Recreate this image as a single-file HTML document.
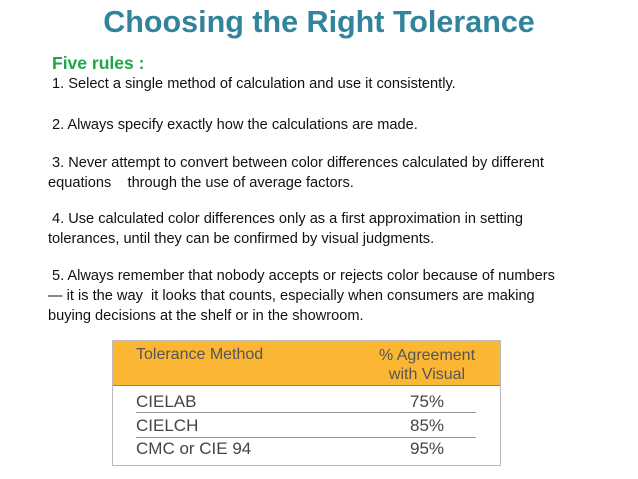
<!DOCTYPE html>
<html><head><meta charset="utf-8"><style>
body{margin:0;width:638px;height:479px;background:#fff;position:relative;overflow:hidden;font-family:"Liberation Sans",sans-serif}
.t{position:absolute;white-space:nowrap;font-size:14.6px;color:#111;line-height:16px}
</style></head><body>
<div style="position:absolute;left:0;width:638px;top:2px;text-align:center;font-size:30.5px;font-weight:bold;color:#31849b;line-height:40px">Choosing the Right Tolerance</div>
<div class="t" style="left:52px;top:55px;font-size:17.5px;font-weight:bold;color:#1fa64a">Five rules :</div>
<div class="t" style="left:52px;top:76px">1. Select a single method of calculation and use it consistently.</div>
<div class="t" style="left:52px;top:117px">2. Always specify exactly how the calculations are made.</div>
<div class="t" style="left:52px;top:155px">3. Never attempt to convert between color differences calculated by different</div>
<div class="t" style="left:48px;top:175px">equations &nbsp;&nbsp;&nbsp;through the use of average factors.</div>
<div class="t" style="left:52px;top:211px">4. Use calculated color differences only as a first approximation in setting</div>
<div class="t" style="left:48px;top:231px">tolerances, until they can be confirmed by visual judgments.</div>
<div class="t" style="left:52px;top:268px">5. Always remember that nobody accepts or rejects color because of numbers</div>
<div class="t" style="left:48px;top:288px">— it is the way &nbsp;it looks that counts, especially when consumers are making</div>
<div class="t" style="left:48px;top:308px">buying decisions at the shelf or in the showroom.</div>

<div style="position:absolute;left:112px;top:340px;width:387px;height:124px;border:1px solid #bbb;background:#fff">
 <div style="position:absolute;left:0;top:0;width:387px;height:44px;background:#fbb634;border-bottom:1px solid #a88030"></div>
 <div style="position:absolute;left:23px;top:5px;font-size:16px;color:#555">Tolerance Method</div>
 <div style="position:absolute;left:248px;top:5px;width:132px;text-align:center;font-size:16px;color:#555;line-height:19px">% Agreement<br>with Visual</div>
 <div style="position:absolute;left:23px;top:51px;font-size:17px;color:#444">CIELAB</div>
 <div style="position:absolute;left:297px;top:51px;font-size:17px;color:#444">75%</div>
 <div style="position:absolute;left:23px;top:71px;width:340px;height:1px;background:#999"></div>
 <div style="position:absolute;left:23px;top:75px;font-size:17px;color:#444">CIELCH</div>
 <div style="position:absolute;left:297px;top:75px;font-size:17px;color:#444">85%</div>
 <div style="position:absolute;left:23px;top:96px;width:340px;height:1px;background:#999"></div>
 <div style="position:absolute;left:23px;top:98px;font-size:17px;color:#444">CMC or CIE 94</div>
 <div style="position:absolute;left:297px;top:98px;font-size:17px;color:#444">95%</div>
</div>
</body></html>
